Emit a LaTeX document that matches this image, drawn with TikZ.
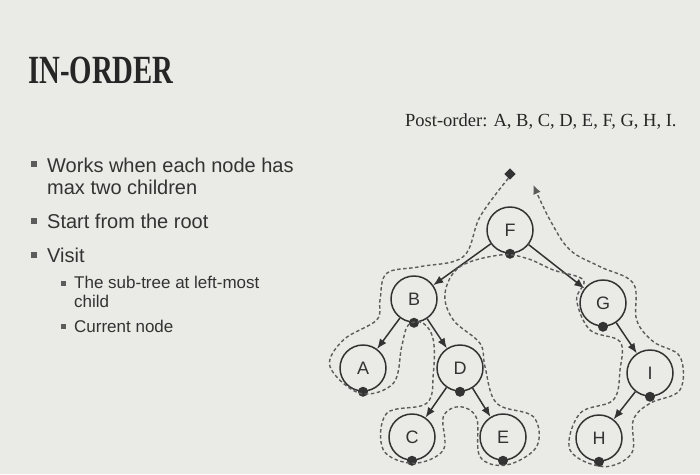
\documentclass[tikz,border=0pt]{standalone}
\usepackage{fontspec}
\setmainfont{Liberation Sans}
\newfontfamily\serifx{Liberation Serif}
\usetikzlibrary{arrows.meta}
\definecolor{bg}{HTML}{EAEAE6}
\definecolor{ink}{HTML}{333333}
\begin{document}
\begin{tikzpicture}[x=1pt,y=-1pt,
  tn/.style={circle,draw=ink,line width=1.5pt,minimum size=46pt,inner sep=0pt,font=\fontsize{18}{18}\selectfont,text=ink},
  dotm/.style={circle,fill=ink,inner sep=0pt,minimum size=10pt},
  edge/.style={draw=ink,line width=1.5pt,-{Latex[length=10pt,width=8pt]}},
  tour/.style={draw=ink!80,line width=1.4pt,dash pattern=on 3.5pt off 2.5pt},
  txt/.style={anchor=west,inner sep=0pt,text=ink,font=\fontsize{20}{21}\selectfont},
  stxt/.style={anchor=west,inner sep=0pt,text=ink,font=\fontsize{17}{18}\selectfont},
  bul/.style={fill=ink!80,inner sep=0pt,minimum size=5.5pt}]
\fill[bg] (0,0) rectangle (700,474);
\useasboundingbox (0,0) rectangle (700,474);
\node[anchor=west,inner sep=0pt,xscale=0.72,font=\serifx\bfseries\fontsize{40}{40}\selectfont,text=black!85] (title) at (28,70) {IN-ORDER};
\node[anchor=west,inner sep=0pt,font=\serifx\fontsize{18.5}{19}\selectfont,text=black!85] (post) at (405,122) {Post-order: A, B, C, D, E, F, G, H, I.};
\node[bul] (b1) at (34,164) {};
\node[txt] (t1) at (47,165) {Works when each node has};
\node[txt] (t1b) at (47,187) {max two children};
\node[bul] (b2) at (34,221) {};
\node[txt] (t2) at (47,221) {Start from the root};
\node[bul] (b3) at (34,255) {};
\node[txt] (t3) at (47,255) {Visit};
\node[bul,minimum size=5pt] (b4) at (63,283) {};
\node[stxt] (t4) at (74,282) {The sub-tree at left-most};
\node[stxt] (t4b) at (74,301) {child};
\node[bul,minimum size=5pt] (b5) at (63,326) {};
\node[stxt] (t5) at (74,326) {Current node};
\node[tn] (F) at (510,230) {F};
\node[tn] (B) at (414,299) {B};
\node[tn] (G) at (603,303) {G};
\node[tn] (A) at (363,368) {A};
\node[tn] (D) at (460,368) {D};
\node[tn] (I) at (650,373) {I};
\node[tn] (C) at (412,437) {C};
\node[tn] (E) at (503,437) {E};
\node[tn] (H) at (599,438) {H};
\foreach \n in {F,B,G,A,D,I,C,E,H} \node[dotm] at (\n.south) {};
\draw[edge] (F) -- (B);
\draw[edge] (F) -- (G);
\draw[edge] (B) -- (A);
\draw[edge] (B) -- (D);
\draw[edge] (D) -- (C);
\draw[edge] (D) -- (E);
\draw[edge] (G) -- (I);
\draw[edge] (I) -- (H);
\node[fill=ink,rotate=45,inner sep=0pt,minimum size=8pt] (start) at (510,174) {};
\begin{scope}[shift={(320,160)},x=0.3333pt,y=-0.3333pt]
\draw[tour,-{Latex[length=9pt,width=8pt]}] plot[smooth,tension=0.6] coordinates {
(565,55) (480,170) (430,290) (300,320) (200,340) (180,420) (170,480) (70,540) (30,620) (120,700) (220,670) (245,560) (265,495) (310,490) (340,540) (340,640) (320,730) (200,760) (190,870) (280,910) (370,870) (370,770) (420,740) (470,775) (480,890) (560,915) (650,860) (640,770) (530,730) (495,620) (480,550) (400,480) (375,400) (420,320) (540,285) (620,295) (700,330) (790,360) (770,420) (810,510) (900,545) (900,630) (880,720) (780,760) (750,870) (850,920) (935,880) (940,780) (990,730) (1080,690) (1080,590) (1000,545) (950,480) (940,370) (840,320) (750,270) (690,180) (640,75)};
\end{scope}
\end{tikzpicture}
\end{document}
